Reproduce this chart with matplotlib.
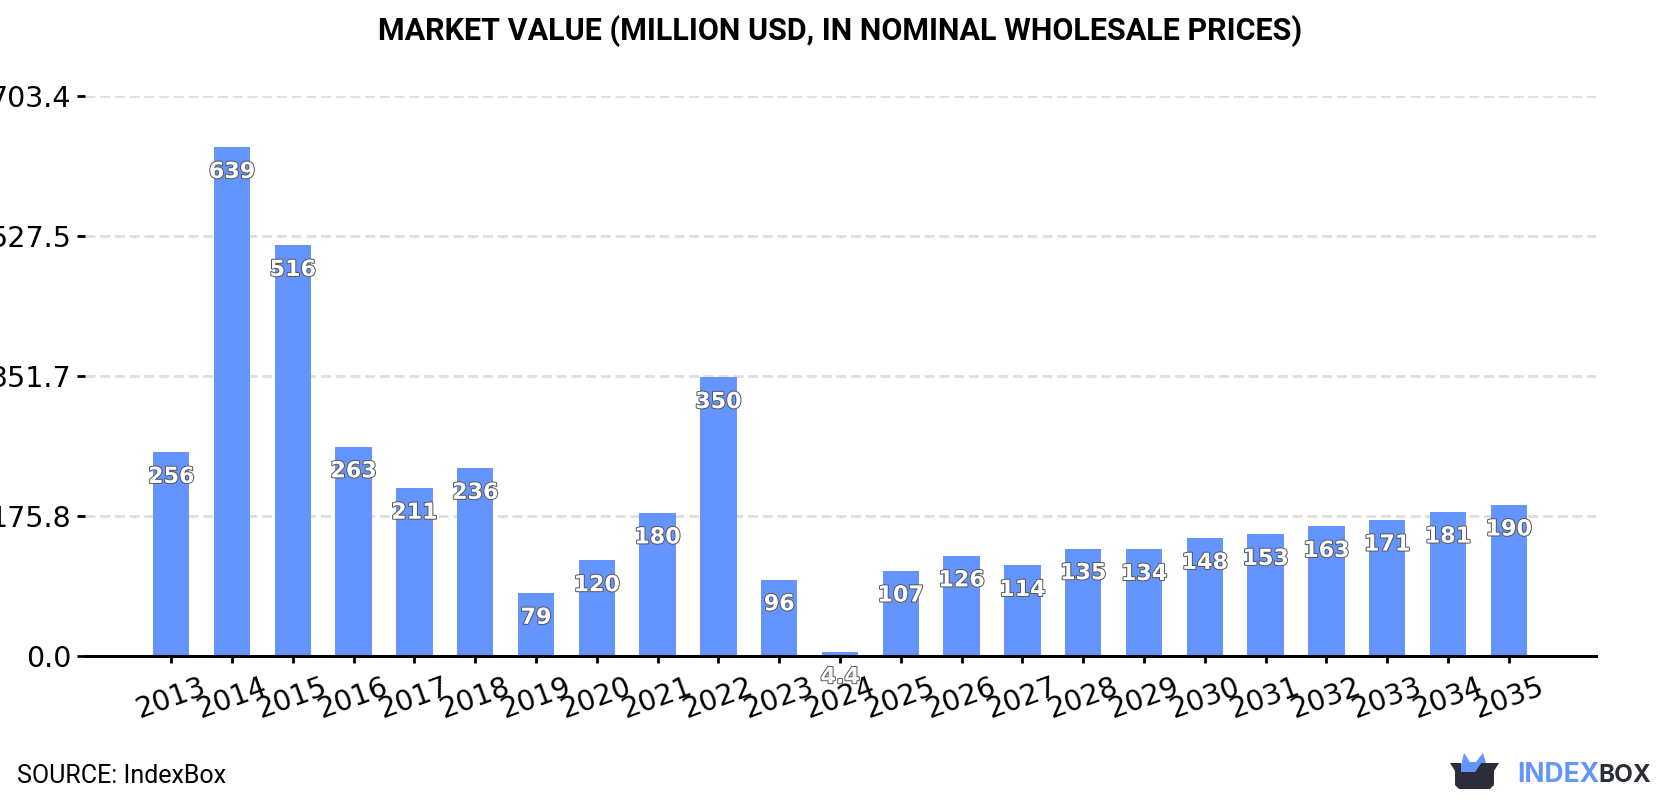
import matplotlib
matplotlib.use("Agg")
import matplotlib.pyplot as plt
import matplotlib.patheffects as pe
from matplotlib.patches import Polygon

years = [str(y) for y in range(2013, 2036)]
values = [256, 639, 516, 263, 211, 236, 79, 120, 180, 350, 96, 4.4,
          107, 126, 114, 135, 134, 148, 153, 163, 171, 181, 190]
y_ticks = [0.0, 175.8, 351.7, 527.5, 703.4]
title = "MARKET VALUE (MILLION USD, IN NOMINAL WHOLESALE PRICES)"
source = "SOURCE: IndexBox"

BAR = "#6495FF"
DARK = "#2B2D3A"
W, H = 1680, 800

fig = plt.figure(figsize=(W / 100, H / 100), dpi=100, facecolor="white")
ax = fig.add_axes([85 / W, 1 - 656 / H, (1596 - 85) / W, (656 - 96) / H])

x = list(range(len(years)))
ax.bar(x, values, width=0.6, color=BAR, zorder=3)
ax.set_xlim(-1.4178, 23.434)
ax.set_ylim(0, 703.4)

ax.set_yticks(y_ticks)
ax.set_yticklabels([f"{t:.1f}" for t in y_ticks], fontsize=20.5, family="DejaVu Sans")
ax.set_xticks(x)
ax.set_xticklabels(years, rotation=20, ha="center", fontsize=20.5, family="DejaVu Sans")
ax.tick_params(axis="y", length=5.8, width=2, pad=4, color="black")
ax.tick_params(axis="x", length=5, width=2, pad=7, color="black")

ax.grid(axis="y", color="#DEDEDE", linewidth=2, linestyle=(0, (3.6, 1.7)), zorder=1)
ax.set_axisbelow(True)
for side in ("top", "left", "right"):
    ax.spines[side].set_visible(False)
ax.spines["bottom"].set_linewidth(2.2)
ax.spines["bottom"].set_zorder(5)

# Value labels sit just below each bar top, white with a thin grey outline
for xi, v in zip(x, values):
    ax.annotate(f"{v:g}", (xi, v), xytext=(0, -17.8), textcoords="offset points",
                ha="center", va="center", fontsize=16, fontweight="bold",
                family="DejaVu Sans", color="white", zorder=6, annotation_clip=False,
                path_effects=[pe.withStroke(linewidth=1.4, foreground="#555555")])

fig.text(840 / W, 1 - 31 / H, title, ha="center", va="center",
         fontsize=22, fontweight="bold", family="Roboto", color="black")
fig.text(17 / W, 1 - 776 / H, source, ha="left", va="center",
         fontsize=18, family="Roboto", color="black")

# Brand mark: an open box with a blue crown rising from it
def px(points):
    return [(a / W, 1 - b / H) for a, b in points]

fig.add_artist(Polygon(px([(1461, 772), (1461, 765), (1464, 753), (1470, 762), (1476, 762),
                           (1483, 753), (1486, 763), (1481, 763), (1475, 772)]),
                       closed=True, transform=fig.transFigure, facecolor=BAR, edgecolor="none"))
fig.add_artist(Polygon(px([(1450, 763), (1461, 763), (1461, 772), (1475, 772), (1481, 763),
                           (1499, 763), (1494, 771), (1494, 785), (1490, 789), (1459, 789),
                           (1455, 785), (1455, 771)]),
                       closed=True, transform=fig.transFigure, facecolor=DARK, edgecolor="none"))
fig.text(1517 / W, 1 - 775 / H, "INDEX", ha="left", va="center", fontsize=19,
         fontweight="bold", family="Inter", color=BAR)
fig.text(1598 / W, 1 - 775 / H, "BOX", ha="left", va="center", fontsize=17.5,
         fontweight="bold", family="Inter", color=DARK)

fig.savefig("out.png", dpi=100, facecolor="white")
